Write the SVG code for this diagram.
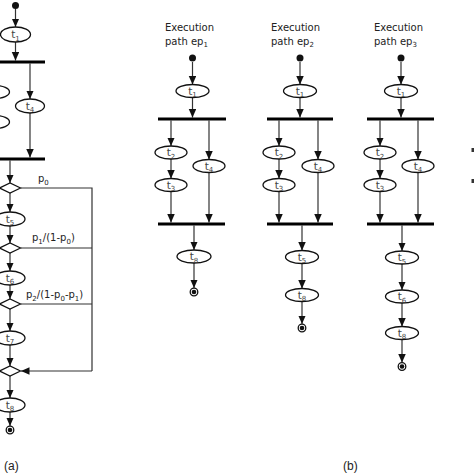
<svg xmlns="http://www.w3.org/2000/svg" width="474" height="474" viewBox="0 0 474 474">
<defs>
<marker id="ah" markerUnits="userSpaceOnUse" markerWidth="9" markerHeight="8" refX="8.5" refY="3.75" orient="auto">
<path d="M0,0 L8.5,3.75 L0,7.5 z" fill="#111"/>
</marker>
</defs>
<style>
.e{fill:#fff;stroke:#111;stroke-width:1.3}
.c{stroke:#333;stroke-width:1.2;fill:none}
.a{stroke:#333;stroke-width:1.2;fill:none;marker-end:url(#ah)}
.bar{stroke:#000;stroke-width:3.2}
.d{fill:#fff;stroke:#111;stroke-width:1.2}
.lt{font-family:"DejaVu Sans",sans-serif;font-size:10.5px;fill:#444;text-anchor:middle}
.sub{font-size:7px}
.tx{font-family:"DejaVu Sans",sans-serif;font-size:10px;fill:#222}
.cap{font-family:"Liberation Sans",Arial,sans-serif;font-size:12px;fill:#222}
.dot{fill:#111}
.endo{fill:#fff;stroke:#111;stroke-width:1.3}
</style>
<rect width="474" height="474" fill="#fff"/>

<g id="connectors">
<line class="a" x1="15.5" y1="9" x2="15.5" y2="27"/>
<line class="a" x1="15.5" y1="42" x2="15.5" y2="60.5"/>
<line class="a" x1="30" y1="63.5" x2="30" y2="99"/>
<line class="a" x1="-5" y1="63.5" x2="-5" y2="85.5"/>
<line class="a" x1="-5" y1="98.5" x2="-5" y2="115.5"/>
<line class="a" x1="30" y1="113" x2="30" y2="157.5"/>
<line class="a" x1="-5" y1="128.5" x2="-5" y2="157.5"/>
<line class="a" x1="10" y1="160.5" x2="10" y2="183"/>
<line class="a" x1="10" y1="193" x2="10" y2="212"/>
<line class="a" x1="10" y1="226" x2="10" y2="243"/>
<line class="a" x1="10" y1="253" x2="10" y2="271"/>
<line class="a" x1="10" y1="285" x2="10" y2="299"/>
<line class="a" x1="10" y1="309" x2="10" y2="331"/>
<line class="a" x1="10" y1="345" x2="10" y2="366"/>
<line class="a" x1="10" y1="376" x2="10" y2="398"/>
<line class="a" x1="10" y1="412" x2="10" y2="426"/>
<polyline class="c" points="20.5,188 92,188 92,371"/>
<line class="c" x1="20.5" y1="248" x2="92" y2="248"/>
<line class="c" x1="20.5" y1="304" x2="92" y2="304"/>
<line class="a" x1="92" y1="371" x2="21" y2="371"/>

<line class="a" x1="192.5" y1="62" x2="192.5" y2="84.5"/>
<line class="a" x1="192.5" y1="97.5" x2="192.5" y2="117.5"/>
<line class="a" x1="171" y1="120.5" x2="171" y2="146"/>
<line class="a" x1="209" y1="120.5" x2="209" y2="159.5"/>
<line class="a" x1="171" y1="159" x2="171" y2="178.5"/>
<line class="a" x1="171" y1="191.5" x2="171" y2="222.5"/>
<line class="a" x1="209" y1="172.5" x2="209" y2="222.5"/>
<line class="a" x1="194" y1="225.5" x2="194" y2="250"/>
<line class="a" x1="194" y1="263" x2="194" y2="288"/>

<line class="a" x1="300" y1="62" x2="300" y2="84.5"/>
<line class="a" x1="300" y1="97.5" x2="300" y2="117.5"/>
<line class="a" x1="279" y1="120.5" x2="279" y2="146"/>
<line class="a" x1="318" y1="120.5" x2="318" y2="159.5"/>
<line class="a" x1="279" y1="159" x2="279" y2="178.5"/>
<line class="a" x1="279" y1="191.5" x2="279" y2="222.5"/>
<line class="a" x1="318" y1="172.5" x2="318" y2="222.5"/>
<line class="a" x1="302" y1="225.5" x2="302" y2="250.5"/>
<line class="a" x1="302" y1="263.5" x2="302" y2="288.5"/>
<line class="a" x1="302" y1="301.5" x2="302" y2="324"/>

<line class="a" x1="401" y1="62" x2="401" y2="84.5"/>
<line class="a" x1="401" y1="97.5" x2="401" y2="117.5"/>
<line class="a" x1="380" y1="120.5" x2="380" y2="146"/>
<line class="a" x1="418" y1="120.5" x2="418" y2="159.5"/>
<line class="a" x1="380" y1="159" x2="380" y2="178.5"/>
<line class="a" x1="380" y1="191.5" x2="380" y2="222.5"/>
<line class="a" x1="418" y1="172.5" x2="418" y2="222.5"/>
<line class="a" x1="402" y1="225.5" x2="402" y2="251"/>
<line class="a" x1="402" y1="264" x2="402" y2="290"/>
<line class="a" x1="402" y1="303" x2="402" y2="326.5"/>
<line class="a" x1="402" y1="339.5" x2="402" y2="362.5"/>
</g>

<g id="a-start"><circle class="dot" cx="15.5" cy="5.5" r="3.5"/></g>
<g id="a-t1"><ellipse class="e" cx="15.5" cy="34.5" rx="15" ry="7.5"/><text class="lt" x="15.5" y="38">t<tspan class="sub" dy="2.5">1</tspan></text></g>
<g id="a-bar1"><line class="bar" x1="-30" y1="62" x2="45" y2="62"/></g>
<g id="a-t2"><ellipse class="e" cx="-5" cy="92" rx="14.5" ry="6.5"/></g>
<g id="a-t3"><ellipse class="e" cx="-5" cy="122" rx="14.5" ry="6.5"/></g>
<g id="a-t4"><ellipse class="e" cx="30" cy="106" rx="14.5" ry="7"/><text class="lt" x="30" y="109.5">t<tspan class="sub" dy="2.5">4</tspan></text></g>
<g id="a-bar2"><line class="bar" x1="-30" y1="159" x2="45" y2="159"/></g>
<g id="a-dec1"><polygon class="d" points="-0.5,188 10,183 20.5,188 10,193"/><text class="tx" x="38" y="182">p<tspan class="sub" dy="2.5">0</tspan></text></g>
<g id="a-t5"><ellipse class="e" cx="10" cy="219" rx="15" ry="7"/><text class="lt" x="10" y="222.5">t<tspan class="sub" dy="2.5">5</tspan></text></g>
<g id="a-dec2"><polygon class="d" points="-0.5,248 10,243 20.5,248 10,253"/><text class="tx" x="32" y="241">p<tspan class="sub" dy="2.5">1</tspan><tspan dy="-2.5">/(1-p</tspan><tspan class="sub" dy="2.5">0</tspan><tspan dy="-2.5">)</tspan></text></g>
<g id="a-t6"><ellipse class="e" cx="10" cy="278" rx="15" ry="7"/><text class="lt" x="10" y="281.5">t<tspan class="sub" dy="2.5">6</tspan></text></g>
<g id="a-dec3"><polygon class="d" points="-0.5,304 10,299 20.5,304 10,309"/><text class="tx" x="26" y="298">p<tspan class="sub" dy="2.5">2</tspan><tspan dy="-2.5">/(1-p</tspan><tspan class="sub" dy="2.5">0</tspan><tspan dy="-2.5">-p</tspan><tspan class="sub" dy="2.5">1</tspan><tspan dy="-2.5">)</tspan></text></g>
<g id="a-t7"><ellipse class="e" cx="10" cy="338" rx="15" ry="7"/><text class="lt" x="10" y="341.5">t<tspan class="sub" dy="2.5">7</tspan></text></g>
<g id="a-merge"><polygon class="d" points="-0.5,371 10,366 20.5,371 10,376"/></g>
<g id="a-t8"><ellipse class="e" cx="10" cy="405" rx="15" ry="7"/><text class="lt" x="10" y="408.5">t<tspan class="sub" dy="2.5">8</tspan></text></g>
<g id="a-end"><circle class="endo" cx="10" cy="430" r="3.8"/><circle class="dot" cx="10" cy="430" r="2.3"/></g>
<text class="cap" x="4" y="470">(a)</text>

<g id="ep1-title"><text class="tx" x="165" y="31">Execution</text><text class="tx" x="165" y="44.5">path ep<tspan class="sub" dy="2.5">1</tspan></text></g>
<g id="ep1-start"><circle class="dot" cx="192.5" cy="58" r="3.5"/></g>
<g id="ep1-t1"><ellipse class="e" cx="192.5" cy="91" rx="16.5" ry="6.5"/><text class="lt" x="192.5" y="94.5">t<tspan class="sub" dy="2.5">1</tspan></text></g>
<g id="ep1-bar1"><line class="bar" x1="158" y1="119" x2="226" y2="119"/></g>
<g id="ep1-t2"><ellipse class="e" cx="171" cy="152.5" rx="16" ry="6.5"/><text class="lt" x="171" y="156">t<tspan class="sub" dy="2.5">2</tspan></text></g>
<g id="ep1-t3"><ellipse class="e" cx="171" cy="185" rx="16" ry="6.5"/><text class="lt" x="171" y="188.5">t<tspan class="sub" dy="2.5">3</tspan></text></g>
<g id="ep1-t4"><ellipse class="e" cx="209" cy="166" rx="16" ry="6.5"/><text class="lt" x="209" y="169.5">t<tspan class="sub" dy="2.5">4</tspan></text></g>
<g id="ep1-bar2"><line class="bar" x1="158" y1="224" x2="225" y2="224"/></g>
<g id="ep1-t8"><ellipse class="e" cx="194" cy="256.5" rx="17" ry="6.5"/><text class="lt" x="194" y="260">t<tspan class="sub" dy="2.5">8</tspan></text></g>
<g id="ep1-end"><circle class="endo" cx="194" cy="292" r="3.8"/><circle class="dot" cx="194" cy="292" r="2.3"/></g>

<g id="ep2-title"><text class="tx" x="271" y="31">Execution</text><text class="tx" x="271" y="44.5">path ep<tspan class="sub" dy="2.5">2</tspan></text></g>
<g id="ep2-start"><circle class="dot" cx="300" cy="58" r="3.5"/></g>
<g id="ep2-t1"><ellipse class="e" cx="300" cy="91" rx="16.5" ry="6.5"/><text class="lt" x="300" y="94.5">t<tspan class="sub" dy="2.5">1</tspan></text></g>
<g id="ep2-bar1"><line class="bar" x1="267" y1="119" x2="333" y2="119"/></g>
<g id="ep2-t2"><ellipse class="e" cx="279" cy="152.5" rx="16" ry="6.5"/><text class="lt" x="279" y="156">t<tspan class="sub" dy="2.5">2</tspan></text></g>
<g id="ep2-t3"><ellipse class="e" cx="279" cy="185" rx="16" ry="6.5"/><text class="lt" x="279" y="188.5">t<tspan class="sub" dy="2.5">3</tspan></text></g>
<g id="ep2-t4"><ellipse class="e" cx="318" cy="166" rx="16" ry="6.5"/><text class="lt" x="318" y="169.5">t<tspan class="sub" dy="2.5">4</tspan></text></g>
<g id="ep2-bar2"><line class="bar" x1="267" y1="224" x2="333" y2="224"/></g>
<g id="ep2-t5"><ellipse class="e" cx="302" cy="257" rx="16.5" ry="6.5"/><text class="lt" x="302" y="260.5">t<tspan class="sub" dy="2.5">5</tspan></text></g>
<g id="ep2-t8"><ellipse class="e" cx="302" cy="295" rx="16.5" ry="6.5"/><text class="lt" x="302" y="298.5">t<tspan class="sub" dy="2.5">8</tspan></text></g>
<g id="ep2-end"><circle class="endo" cx="302" cy="328" r="3.8"/><circle class="dot" cx="302" cy="328" r="2.3"/></g>

<g id="ep3-title"><text class="tx" x="374" y="31">Execution</text><text class="tx" x="374" y="44.5">path ep<tspan class="sub" dy="2.5">3</tspan></text></g>
<g id="ep3-start"><circle class="dot" cx="401" cy="58" r="3.5"/></g>
<g id="ep3-t1"><ellipse class="e" cx="401" cy="91" rx="16.5" ry="6.5"/><text class="lt" x="401" y="94.5">t<tspan class="sub" dy="2.5">1</tspan></text></g>
<g id="ep3-bar1"><line class="bar" x1="367" y1="119" x2="434" y2="119"/></g>
<g id="ep3-t2"><ellipse class="e" cx="380" cy="152.5" rx="16" ry="6.5"/><text class="lt" x="380" y="156">t<tspan class="sub" dy="2.5">2</tspan></text></g>
<g id="ep3-t3"><ellipse class="e" cx="380" cy="185" rx="16" ry="6.5"/><text class="lt" x="380" y="188.5">t<tspan class="sub" dy="2.5">3</tspan></text></g>
<g id="ep3-t4"><ellipse class="e" cx="418" cy="166" rx="16" ry="6.5"/><text class="lt" x="418" y="169.5">t<tspan class="sub" dy="2.5">4</tspan></text></g>
<g id="ep3-bar2"><line class="bar" x1="367" y1="224" x2="434" y2="224"/></g>
<g id="ep3-t5"><ellipse class="e" cx="402" cy="257.5" rx="16.5" ry="6.5"/><text class="lt" x="402" y="261">t<tspan class="sub" dy="2.5">5</tspan></text></g>
<g id="ep3-t6"><ellipse class="e" cx="402" cy="296.5" rx="16.5" ry="6.5"/><text class="lt" x="402" y="300">t<tspan class="sub" dy="2.5">6</tspan></text></g>
<g id="ep3-t8"><ellipse class="e" cx="402" cy="333" rx="16.5" ry="6.5"/><text class="lt" x="402" y="336.5">t<tspan class="sub" dy="2.5">8</tspan></text></g>
<g id="ep3-end"><circle class="endo" cx="402" cy="366.5" r="3.8"/><circle class="dot" cx="402" cy="366.5" r="2.3"/></g>

<text class="cap" x="343" y="470">(b)</text>

<rect x="471.5" y="148" width="2.5" height="4" fill="#333"/>
<rect x="471.5" y="179" width="2.5" height="4" fill="#333"/>
</svg>
